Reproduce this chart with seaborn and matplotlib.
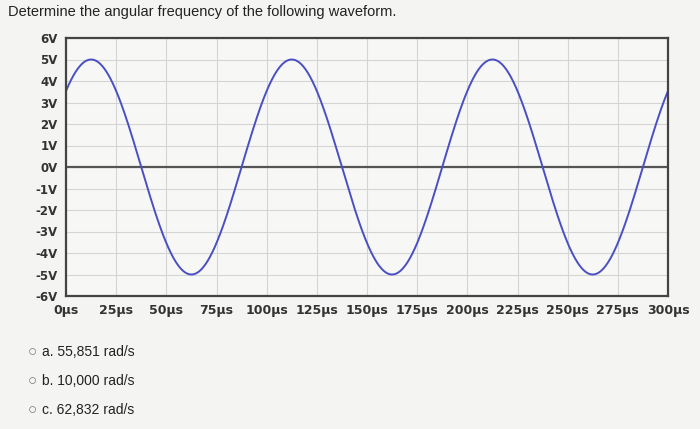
import numpy as np
import pandas as pd
import matplotlib.pyplot as plt
import seaborn as sns

# waveform
amplitude_v = 5.0
period_us = 100.0
peak_time_us = 12.5
x_ticks_us = [0, 25, 50, 75, 100, 125, 150, 175, 200, 225, 250, 275, 300]
y_ticks_v = [6, 5, 4, 3, 2, 1, 0, -1, -2, -3, -4, -5, -6]
question = "Determine the angular frequency of the following waveform."
options = ["a. 55,851 rad/s", "b. 10,000 rad/s", "c. 62,832 rad/s"]

t = np.linspace(0, 300, 1200)
df = pd.DataFrame({"t": t, "v": amplitude_v * np.cos(2 * np.pi * (t - peak_time_us) / period_us)})

sns.set_theme(style="white")
plt.rcParams["font.family"] = ["Liberation Sans", "DejaVu Sans"]

fig = plt.figure(figsize=(7, 4.29), dpi=100)
fig.patch.set_facecolor("#f4f4f3")
ax = fig.add_axes([66 / 700, 1 - 296 / 429, (668 - 66) / 700, (296 - 38) / 429])
ax.set_facecolor("#f7f7f6")

for x in x_ticks_us:
    ax.axvline(x, color="#d4d4d4", lw=0.8, zorder=0)
for y in y_ticks_v:
    ax.axhline(y, color="#d4d4d4", lw=0.8, zorder=0)
ax.axhline(0, color="#555555", lw=1.6, zorder=1)

sns.lineplot(data=df, x="t", y="v", ax=ax, color="#4a4fc4", lw=1.4, zorder=2)
ax.set_xlim(0, 300)
ax.set_ylim(-6, 6)
ax.set_xticks(x_ticks_us)
ax.set_xticklabels([f"{x}\u03bcs" for x in x_ticks_us], fontweight="bold", fontsize=9, color="#333333",
                   family="DejaVu Sans")
ax.set_yticks(y_ticks_v)
ax.set_yticklabels([f"{y}V" for y in y_ticks_v], fontweight="bold", fontsize=8.5, color="#333333",
                   family="DejaVu Sans")
ax.tick_params(length=5, width=1.5, color="#444444", pad=1)
ax.set_xlabel("")
ax.set_ylabel("")
for s in ax.spines.values():
    s.set_color("#444444")
    s.set_linewidth(1.6)

fig.text(8 / 700, 1 - 12 / 429, question, fontsize=10.5, color="#222222", va="center")
for i, opt in enumerate(options):
    yy = 1 - (352 + 29 * i) / 429
    fig.text(32 / 700, yy, "\u25cb", fontsize=11, color="#777777", va="center", ha="center")
    fig.text(42 / 700, yy, opt, fontsize=10, color="#222222", va="center")

fig.savefig("out.png", dpi=100, facecolor=fig.get_facecolor())
